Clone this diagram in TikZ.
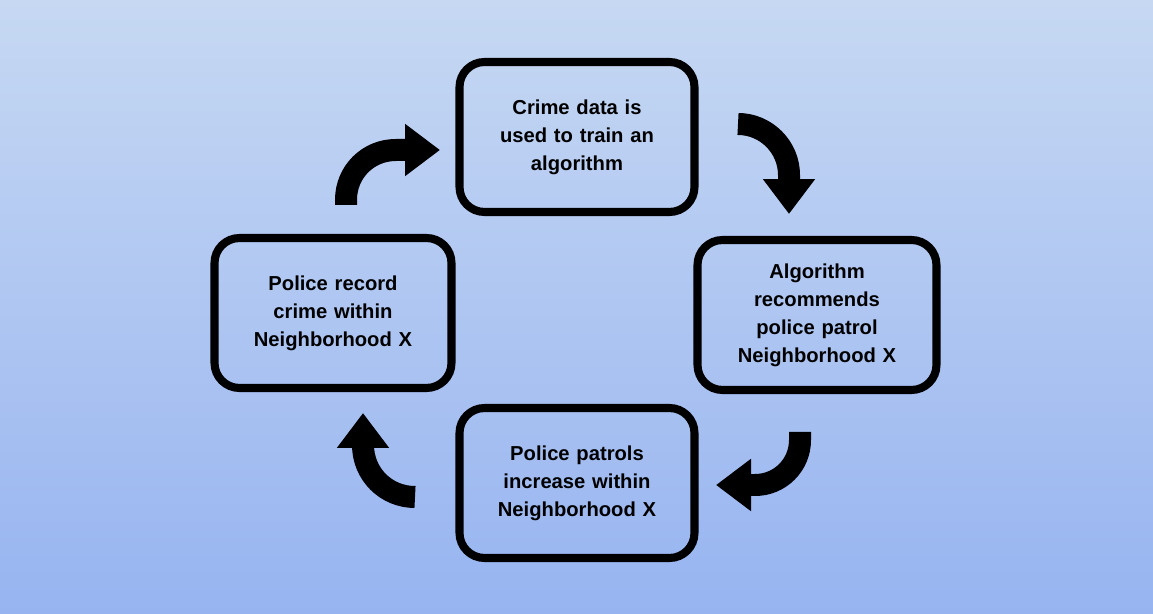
\documentclass[tikz,border=0pt]{standalone}
\usepackage{fontspec}
\setmainfont{Liberation Sans}
\usetikzlibrary{arrows.meta}
\definecolor{bgtop}{HTML}{C6D8F2}
\definecolor{bgbot}{HTML}{97B4F1}
\begin{document}
\begin{tikzpicture}[x=0.02cm,y=-0.02cm,
  box/.style={draw=black,line width=4.6pt,rounded corners=0.5cm,minimum width=4.7cm,minimum height=3cm,
    align=center,font=\fontsize{11.5}{16}\selectfont\bfseries,text width=4.2cm},
  cyc/.style={line width=0.44cm,-{Triangle[width=1.0cm,length=0.7cm]}}]
\shade[top color=bgtop,bottom color=bgbot] (0,0) rectangle (1153,614);
\useasboundingbox (0,0) rectangle (1153,614);
\node[box] (top) at (577,137) {Crime data is\\used to train an\\algorithm};
\node[box,minimum width=4.78cm] (right) at (817,315) {Algorithm\\recommends\\police patrol\\Neighborhood X};
\node[box] (bot) at (577,483) {Police patrols\\increase within\\Neighborhood X};
\node[box,minimum width=4.74cm] (left) at (333,313) {Police record\\crime within\\Neighborhood X};
\draw[cyc] (738,124) .. controls (766,124) and (789,147) .. (789,175) -- (789,214);
\draw[cyc] (800,432) -- (800,440) .. controls (800,465) and (780,485) .. (755,485) -- (716,485);
\draw[cyc] (415,497) .. controls (386,497) and (363,474) .. (363,445) -- (363,413);
\draw[cyc] (346,205) -- (346,200) .. controls (346,172) and (368,150) .. (396,150) -- (440,150);
\end{tikzpicture}
\end{document}
